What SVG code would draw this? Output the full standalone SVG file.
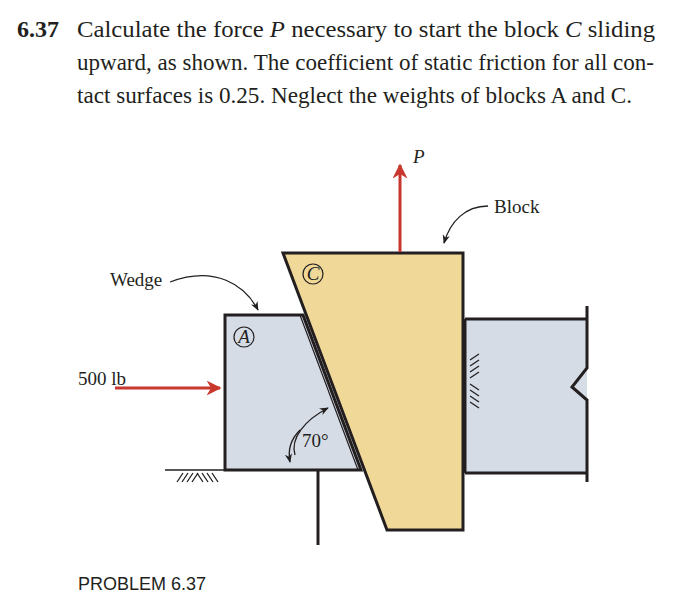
<svg xmlns="http://www.w3.org/2000/svg" width="700" height="600" viewBox="0 0 700 600">
<style>
.t{font-family:"Liberation Serif",serif;font-size:24px;fill:#231f20}
.l{font-family:"Liberation Serif",serif;font-size:19px;fill:#231f20}
.s{stroke:#231f20;stroke-width:3;stroke-linejoin:miter}
.thin{stroke:#231f20;stroke-width:1.3;fill:none}
</style>
<defs>
<marker id="ah" viewBox="0 0 10 10" refX="9" refY="5" markerWidth="7" markerHeight="7" orient="auto"><path d="M0,1 L10,5 L0,9 L3,5 Z" fill="#231f20"/></marker>
<marker id="ar" viewBox="0 0 10 10" refX="9" refY="5" markerWidth="5" markerHeight="5" orient="auto"><path d="M0,0 L10,5 L0,10 L3,5 Z" fill="#c8372d"/></marker>
</defs>
<rect width="700" height="600" fill="#fff"/>
<text class="t" x="17" y="37" font-weight="bold">6.37</text>
<text class="t" x="77" y="37" textLength="578" lengthAdjust="spacingAndGlyphs">Calculate the force <tspan font-style="italic">P</tspan> necessary to start the block <tspan font-style="italic">C</tspan> sliding</text>
<text class="t" x="77" y="70" textLength="577" lengthAdjust="spacingAndGlyphs">upward, as shown. The coefficient of static friction for all con-</text>
<text class="t" x="77" y="103" textLength="555" lengthAdjust="spacingAndGlyphs">tact surfaces is 0.25. Neglect the weights of blocks A and C.</text>
<g id="ground">
<line class="thin" x1="165" y1="470" x2="225" y2="470"/>
<path class="thin" d="M177,482 l6,-9 M182,482 l6,-9 M187,482 l6,-9 M192,482 l6,-9 M197,473 l6,9 M202,473 l6,9 M207,473 l6,9 M212,473 l6,9" stroke-width="1"/>
<line class="s" x1="318" y1="470" x2="318" y2="545" stroke-width="2.5"/>
</g>
<g id="blockA">
<polygon class="s" points="225,315 303,315 361,470 225,470" fill="#d5dce5"/>
<circle cx="244" cy="337" r="10" fill="none" stroke="#231f20" stroke-width="1.2"/>
<text class="l" x="244" y="343" text-anchor="middle" font-style="italic" font-size="16">A</text>
</g>
<g id="blockRight">
<rect x="465" y="319" width="122" height="154" fill="#d5dce5"/>
<path class="s" d="M465,319 L587,319 M465,473 L587,473 M465,319 L465,473" fill="none"/>
<path class="s" d="M587,306 L587,368 L572,387 L587,400 L587,482" fill="none" stroke-width="2.5"/>
<path class="thin" d="M470,360 l9,-6 M470,366 l9,-6 M470,372 l9,-6 M470,378 l9,-6 M470,384 l9,6 M470,390 l9,6 M470,396 l9,6 M470,402 l9,6" stroke-width="1"/>
</g>
<g id="wedgeC">
<polygon class="s" points="283,253 463,253 463,530 387,530" fill="#f0d898"/>
<line x1="300" y1="315" x2="358" y2="470" stroke="#231f20" stroke-width="1.2"/>
<circle cx="313" cy="274" r="10" fill="none" stroke="#231f20" stroke-width="1.2"/>
<text class="l" x="313" y="280" text-anchor="middle" font-style="italic" font-size="16">C</text>
</g>
<g id="connectors">
<line x1="400" y1="252" x2="400" y2="165" stroke="#c8372d" stroke-width="3" marker-end="url(#ar)"/>
<line x1="115" y1="388" x2="220" y2="388" stroke="#c8372d" stroke-width="3" marker-end="url(#ar)"/>
<path class="thin" d="M170,282 C215,265 245,285 258,310" marker-end="url(#ah)"/>
<path class="thin" d="M488,206 C465,206 450,222 444,243" marker-end="url(#ah)"/>
<path class="thin" d="M295,455 C290,438 305,420 328,408" marker-end="url(#ah)"/>
<path class="thin" d="M300,430 C290,440 288,452 290,462" marker-end="url(#ah)"/>
</g>
<g id="labels">
<text class="l" x="413" y="163" font-style="italic">P</text>
<text class="l" x="494" y="213">Block</text>
<text class="l" x="110" y="286">Wedge</text>
<text class="l" x="78" y="385">500 lb</text>
<text class="l" x="302" y="447" font-size="17">70°</text>
<text x="78" y="590" font-family="Liberation Sans,sans-serif" font-size="18" fill="#231f20">PROBLEM 6.37</text>
</g>
</svg>
